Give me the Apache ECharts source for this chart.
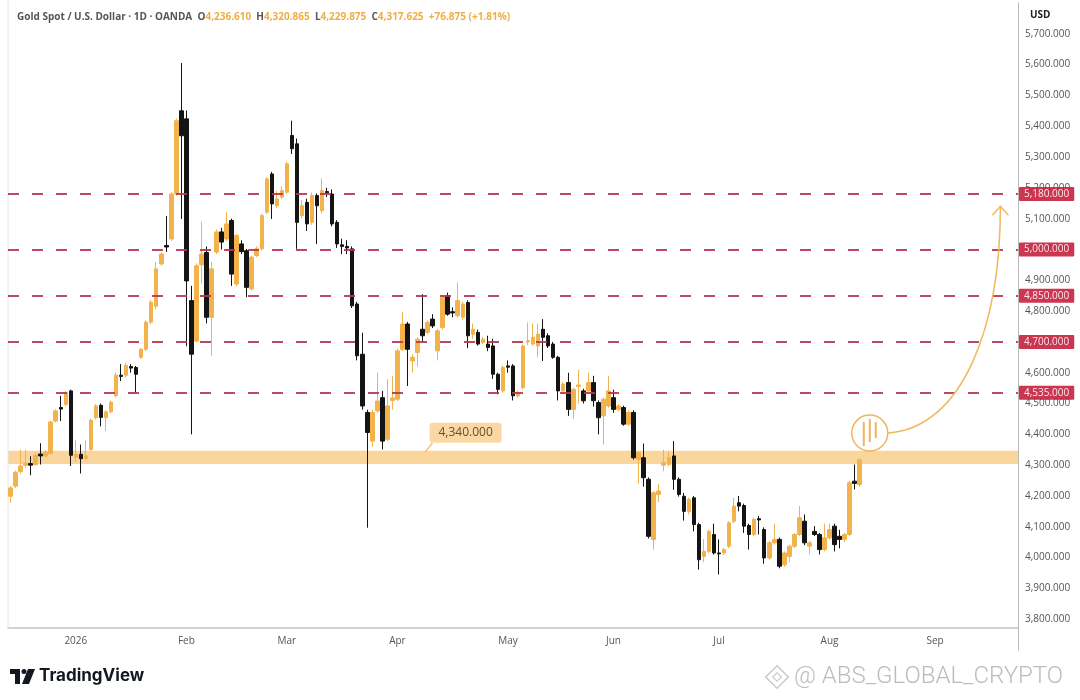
<!DOCTYPE html>
<html><head><meta charset="utf-8">
<script src="https://cdn.jsdelivr.net/npm/echarts@6/dist/echarts.min.js"></script>
<style>html,body{margin:0;padding:0;background:#fff}#c{width:1080px;height:700px}</style>
</head><body><div id="c"></div>
<script>
// ---- data ----
const startDate = '2025-12-15';
const skipDays = ['2026-06-19', '2026-07-03'];
const slotCount = 201;
const monthNames = ['Jan','Feb','Mar','Apr','May','Jun','Jul','Aug','Sep','Oct','Nov','Dec'];

const openP = [
4199,4232,4279,4300,4305,4302,4336,4330,4338,4443,
4487,4497,4541,4325,4335,4322,4351,4454,4494,4454,
4473,4525,4592,4592,4620,4617,4650,4676,4764,4816,
4953,5013,5034,5180,5450,5424,4834,4703,4950,4990,
4780,4992,5057,5034,5094,4888,5018,4996,4872,4980,
5002,5121,5245,5142,5170,5186,5370,5343,5110,5153,
5088,5175,5126,5188,5180,5088,5015,5010,5002,4823,
4660,4471,4378,4476,4519,4384,4510,4514,4676,4758,
4638,4666,4741,4731,4774,4671,4747,4850,4798,4785,
4780,4828,4725,4731,4698,4693,4687,4595,4541,4622,
4622,4525,4552,4700,4693,4687,4741,4720,4693,4650,
4541,4568,4481,4555,4541,4541,4568,4503,4460,4492,
4519,4481,4487,4433,4471,4319,4324,4254,4059,4205,
4300,4302,4330,4254,4199,4150,4194,4107,4004,4020,
4075,4015,4015,4037,4118,4178,4169,4104,4075,4126,
4091,3999,4048,4059,3977,4004,4037,4075,4118,4037,
4085,4075,4026,4064,4102,4069,4059,4075,4248,4236.61];
const closeP = [
4226,4277,4297,4306,4300,4332,4330,4342,4440,4476,
4482,4535,4332,4335,4321,4330,4446,4492,4455,4473,
4504,4592,4588,4624,4615,4595,4676,4764,4829,4937,
4985,5008,5180,5418,5369,4898,4660,4947,4985,4780,
4937,5057,5024,5083,4920,5045,4993,4877,4975,5002,
5110,5229,5148,5164,5191,5278,5327,5088,5142,5083,
5175,5142,5191,5184,5083,5018,5010,5005,4817,4655,
4492,4406,4471,4508,4378,4492,4518,4671,4758,4676,
4650,4709,4720,4763,4752,4736,4845,4790,4794,4834,
4823,4720,4741,4693,4709,4682,4595,4546,4617,4618,
4525,4536,4687,4704,4715,4725,4715,4687,4650,4541,
4563,4481,4546,4560,4509,4568,4509,4454,4514,4541,
4481,4492,4433,4471,4324,4341,4259,4069,4210,4216,
4308,4324,4254,4205,4150,4189,4107,3993,4020,4085,
4015,4012,4026,4113,4167,4167,4102,4075,4124,4122,
3999,4048,4059,3972,4015,4037,4075,4129,4048,4048,
4075,4026,4064,4091,4042,4059,4075,4243,4240.75,4317.625];
const lowP = [
4178,4225,4272,4292,4267,4298,4302,4325,4335,4438,
4443,4490,4297,4310,4273,4315,4345,4448,4426,4411,
4468,4520,4573,4585,4600,4535,4645,4670,4758,4807,
4948,4992,5028,5175,5099,4686,4400,4698,4890,4760,
4655,4985,5000,5028,4882,4880,4985,4845,4866,4975,
4996,5115,5099,5135,5163,5180,5310,5002,5100,5060,
5080,5018,5118,5170,5075,5005,4985,4985,4810,4640,
4480,4097,4360,4470,4351,4378,4480,4508,4670,4557,
4600,4620,4700,4725,4745,4640,4740,4785,4780,4778,
4772,4680,4710,4688,4692,4670,4580,4530,4535,4600,
4510,4518,4545,4690,4688,4650,4638,4680,4645,4510,
4535,4460,4450,4500,4500,4535,4490,4400,4367,4486,
4470,4475,4428,4427,4318,4240,4230,4062,4026,4180,
4280,4296,4220,4198,4120,4140,4085,3961,3985,4015,
4010,3945,4008,4030,4112,4150,4080,4026,4070,4075,
3980,3993,4042,3965,3970,3985,4031,4070,4040,4010,
4070,4010,4020,4058,4020,4030,4050,4070,4221,4229.875];
const highP = [
4232,4282,4350,4350,4329,4340,4371,4348,4445,4482,
4525,4540,4545,4380,4367,4380,4450,4498,4500,4478,
4510,4600,4628,4632,4628,4622,4680,4770,4835,4959,
4990,5109,5186,5425,5605,5451,4882,4955,5090,5010,
4960,5065,5070,5122,5100,5050,5030,5002,4980,5010,
5116,5235,5252,5190,5205,5285,5418,5360,5160,5165,
5185,5182,5230,5200,5195,5095,5035,5030,5010,4830,
4730,4480,4480,4600,4541,4579,4590,4678,4797,4765,
4660,4715,4855,4770,4790,4742,4850,4860,4812,4893,
4830,4835,4760,4740,4716,4720,4710,4600,4624,4640,
4628,4542,4692,4763,4760,4760,4774,4728,4700,4655,
4570,4600,4552,4610,4548,4600,4590,4510,4520,4590,
4545,4498,4493,4478,4478,4346,4370,4260,4216,4240,
4350,4345,4378,4260,4210,4195,4200,4113,4060,4090,
4110,4059,4032,4118,4194,4200,4175,4110,4130,4135,
4098,4054,4110,4065,4020,4042,4080,4167,4140,4054,
4102,4080,4110,4110,4110,4090,4080,4250,4302,4320.865];

const levelPrices = [5180, 5000, 4850, 4700, 4535];
const zoneRange = [4304, 4347];
const zoneLabelValue = 4340;
const countdownText = '10:03:26';
const headerTitle = 'Gold Spot / U.S. Dollar · 1D · OANDA';
const currencyLabel = 'USD';

// ---- helpers ----
function pad(n){return n<10?'0'+n:''+n;}
function fmt(v){const s=Number(v).toFixed(3);const p=s.split('.');return p[0].replace(/\B(?=(\d{3})+(?!\d))/g,',')+'.'+p[1];}

const dates=[];
(function(){const a=startDate.split('-').map(Number);const d=new Date(Date.UTC(a[0],a[1]-1,a[2]));
while(dates.length<slotCount){const wd=d.getUTCDay();const s=d.getUTCFullYear()+'-'+pad(d.getUTCMonth()+1)+'-'+pad(d.getUTCDate());
if(wd!==0&&wd!==6&&skipDays.indexOf(s)<0)dates.push(s);d.setUTCDate(d.getUTCDate()+1);}})();
function isMonthStart(i){return i>0&&dates[i].slice(0,7)!==dates[i-1].slice(0,7);}
function monthLabel(s){const m=+s.slice(5,7);return m===1?s.slice(0,4):monthNames[m-1];}

const candles=openP.map((o,i)=>[o,closeP[i],lowP[i],highP[i]]);
const n=candles.length;
const lastO=openP[n-1],lastH=highP[n-1],lastL=lowP[n-1],lastC=closeP[n-1];
const chg=lastC-closeP[n-2];const pct=(chg/closeP[n-2]*100).toFixed(2);

const UP='#F2B24C', DOWN='#141414', LEVEL='#B8344F';

const chart=echarts.init(document.getElementById('c'),null,{renderer:'canvas'});
const option={
  animation:false,
  backgroundColor:'#ffffff',
  title:{left:12,top:7,
    text:'{g|'+headerTitle+'}  {g|O}{v|'+fmt(lastO)+'}  {g|H}{v|'+fmt(lastH)+'}  {g|L}{v|'+fmt(lastL)+'}  {g|C}{v|'+fmt(lastC)+'}  {v|'+(chg>=0?'+':'')+fmt(chg)+' ('+(chg>=0?'+':'')+pct+'%)}',
    textStyle:{fontSize:10,fontFamily:'Open Sans',rich:{g:{color:'#555',fontSize:10,fontFamily:'Open Sans'},v:{color:'#EFAE45',fontSize:10,fontFamily:'Open Sans'}}}},
  grid:{left:8,right:62,top:3,bottom:50},
  xAxis:{type:'category',data:dates,boundaryGap:true,offset:-22,
    axisLine:{lineStyle:{color:'#c4c4c4',width:1.5}},axisTick:{show:false},splitLine:{show:false},
    axisLabel:{interval:function(i){return isMonthStart(i);},formatter:function(v){return monthLabel(v);},
      color:'#555',fontSize:10,fontFamily:'Open Sans',margin:8}},
  yAxis:{type:'value',position:'right',min:3700,max:5800,interval:100,scale:true,
    axisLine:{show:true,lineStyle:{color:'#b8b8b8',width:1}},axisTick:{show:false},splitLine:{show:false},
    axisLabel:{formatter:fmt,color:'#555',fontSize:10,fontFamily:'Open Sans',align:'left',margin:7,showMinLabel:false,showMaxLabel:false}},
  series:[{
    type:'candlestick',data:candles,barWidth:4,
    itemStyle:{color:UP,color0:DOWN,borderColor:UP,borderColor0:DOWN,borderWidth:1},
    markArea:{silent:true,itemStyle:{color:'#FBD69C'},data:[[{yAxis:zoneRange[0]},{yAxis:zoneRange[1]}]]},
    markLine:{silent:true,symbol:['none','none'],z:6,
      data:levelPrices.map(p=>({yAxis:p,lineStyle:{color:LEVEL,width:2,type:[11,13],opacity:0.9},
        label:{show:true,position:'end',distance:1,formatter:fmt(p),color:'#fff',backgroundColor:'#C6203E',padding:[2,5,2,5],fontSize:10,fontFamily:'Open Sans',borderRadius:1}}))
        .concat([{yAxis:lastC,lineStyle:{width:0,opacity:0},
        label:{show:true,position:'end',distance:1,formatter:fmt(lastC)+'\n'+countdownText,color:'#fff',backgroundColor:'#E32636',padding:[2,5,2,5],lineHeight:12,fontSize:10,fontFamily:'Open Sans',borderRadius:1}}])
    }
  }]
};
chart.setOption(option);

function px(i,p){return chart.convertToPixel({xAxisIndex:0,yAxisIndex:0},[i,p]);}
const box=px(84,4405);
const circ=px(171,4404);
const arrowEnd=px(197,5140);
const r=18;
const st=[circ[0]+r,circ[1]];
const g=[];
// callout
g.push({type:'line',shape:{x1:box[0],y1:box[1]+10,x2:box[0]-8,y2:box[1]+20},style:{stroke:'#F6C47A',lineWidth:1.5},z:10});
g.push({type:'rect',shape:{x:box[0]-3,y:box[1]-10,width:72,height:20,r:3},style:{fill:'#FBD8A3'},z:10});
g.push({type:'text',x:box[0]+33,y:box[1],style:{text:fmt(zoneLabelValue),fill:'#5E5035',font:'12px "Open Sans"',align:'center',verticalAlign:'middle'},z:11});
// circle icon
g.push({type:'circle',shape:{cx:circ[0],cy:circ[1],r:r},style:{fill:'rgba(255,255,255,0.6)',stroke:'#F0B65E',lineWidth:1.5},z:10});
g.push({type:'rect',shape:{x:circ[0]-7,y:circ[1]-11,width:2,height:24},style:{fill:'#F0B65E'},z:11});
g.push({type:'rect',shape:{x:circ[0]-1,y:circ[1]-14,width:2,height:23},style:{fill:'#F0B65E'},z:11});
g.push({type:'rect',shape:{x:circ[0]+5,y:circ[1]-11,width:2,height:16},style:{fill:'#F0B65E'},z:11});
// arrow
g.push({type:'bezierCurve',shape:{x1:st[0],y1:st[1],cpx1:st[0]+75,cpy1:st[1]-5,cpx2:arrowEnd[0],cpy2:arrowEnd[1]+120,x2:arrowEnd[0],y2:arrowEnd[1]},style:{stroke:'#F2B65E',lineWidth:1.5,fill:null},z:10});
g.push({type:'polyline',shape:{points:[[arrowEnd[0]-8,arrowEnd[1]+9],[arrowEnd[0],arrowEnd[1]],[arrowEnd[0]+8,arrowEnd[1]+9]]},style:{stroke:'#F2B65E',lineWidth:1.5,fill:null},z:10});
// borders
g.push({type:'line',shape:{x1:8,y1:0,x2:8,y2:628},style:{stroke:'#e4e4e4',lineWidth:1},z:1});
// currency label
g.push({type:'text',x:1030,y:15,style:{text:currencyLabel,fill:'#222',font:'bold 10px "Open Sans"',verticalAlign:'middle'},z:5});
// TradingView logo
g.push({type:'rect',shape:{x:10,y:669,width:10,height:5},style:{fill:'#131722'}});
g.push({type:'rect',shape:{x:15,y:669,width:5,height:15},style:{fill:'#131722'}});
g.push({type:'circle',shape:{cx:24,cy:671.5,r:2.5},style:{fill:'#131722'}});
g.push({type:'polygon',shape:{points:[[28,669],[35,669],[29,684],[22,684]]},style:{fill:'#131722'}});
g.push({type:'text',x:39,y:676,style:{text:'TradingView',fill:'#131722',font:'bold 17px Inter',verticalAlign:'middle'}});
// watermark
g.push({type:'rect',shape:{x:-8,y:-8,width:16,height:16},rotation:Math.PI/4,x:777,y:677,style:{fill:null,stroke:'#c9c9c9',lineWidth:1.5}});
g.push({type:'rect',shape:{x:-3,y:-3,width:6,height:6},rotation:Math.PI/4,x:777,y:677,style:{fill:null,stroke:'#c9c9c9',lineWidth:1.2}});
g.push({type:'text',x:794,y:677,style:{text:'@ ABS_GLOBAL_CRYPTO',fill:'#bcbcbc',font:'300 24px Roboto',verticalAlign:'middle'}});
chart.setOption({graphic:{elements:g}});
</script></body></html>
